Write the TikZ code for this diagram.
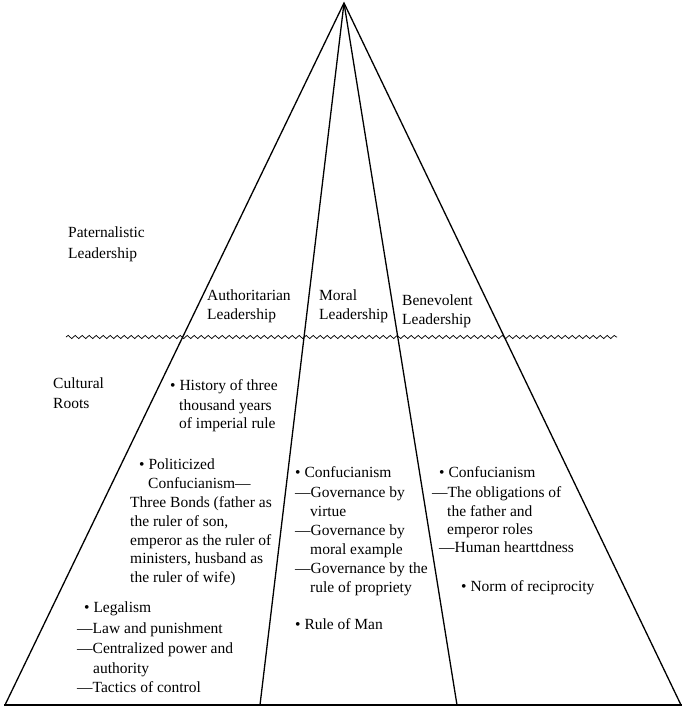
\documentclass[tikz,border=0pt]{standalone}
\usepackage{fontspec}
\setmainfont{Liberation Serif}
\usetikzlibrary{decorations.pathmorphing}
\begin{document}
\begin{tikzpicture}[x=1pt,y=-1pt,
  txt/.style={font=\fontsize{15.5}{19}\selectfont, inner sep=0pt, anchor=base west},
  edge/.style={line width=1.3pt, line join=miter},
  base/.style={line width=2.2pt},
  wave/.style={decorate, decoration={snake, amplitude=1.6pt, segment length=7pt}, line width=0.7pt}]
\useasboundingbox (0,0) rectangle (685,709);
% pyramid
\coordinate (apex) at (344,3);
\coordinate (bl) at (5,705);
\coordinate (bml) at (260,705);
\coordinate (bmr) at (457,705);
\coordinate (br) at (681,705);
\draw[edge] (bl) -- (apex) -- (br);
\draw[edge] (apex) -- (bml);
\draw[edge] (apex) -- (bmr);
\draw[base] ([xshift=-1pt]bl) -- ([xshift=1pt]br);
% wavy divider
\coordinate (w1) at (66,337);
\coordinate (w2) at (617,337);
\draw[wave] (w1) -- (w2);
% headers
\node[txt] (pl1) at (68,237) {Paternalistic};
\node[txt] (pl2) at (68,258) {Leadership};
\node[txt] (al1) at (207,300) {Authoritarian};
\node[txt] (al2) at (207,319) {Leadership};
\node[txt] (ml1) at (319,300) {Moral};
\node[txt] (ml2) at (319,319) {Leadership};
\node[txt] (bl1) at (402,305) {Benevolent};
\node[txt] (bl2) at (402,324) {Leadership};
\node[txt] (cr1) at (53,388) {Cultural};
\node[txt] (cr2) at (53,408) {Roots};
% left column
\node[txt] (h1) at (170,390) {• History of three};
\node[txt] (h2) at (179,410) {thousand years};
\node[txt] (h3) at (179,428) {of imperial rule};
\node[txt] (p1) at (139,469) {• Politicized};
\node[txt] (p2) at (148,488) {Confucianism—};
\node[txt] (p3) at (130,507) {Three Bonds (father as};
\node[txt] (p4) at (130,526) {the ruler of son,};
\node[txt] (p5) at (130,545) {emperor as the ruler of};
\node[txt] (p6) at (130,563) {ministers, husband as};
\node[txt] (p7) at (130,582) {the ruler of wife)};
\node[txt] (l1) at (84,612) {• Legalism};
\node[txt] (l2) at (77,633) {—Law and punishment};
\node[txt] (l3) at (77,653) {—Centralized power and};
\node[txt] (l4) at (93,673) {authority};
\node[txt] (l5) at (77,692) {—Tactics of control};
% middle column
\node[txt] (m1) at (295,477) {• Confucianism};
\node[txt] (m2) at (295,497) {—Governance by};
\node[txt] (m3) at (310,516) {virtue};
\node[txt] (m4) at (295,535) {—Governance by};
\node[txt] (m5) at (310,554) {moral example};
\node[txt] (m6) at (295,573) {—Governance by the};
\node[txt] (m7) at (310,592) {rule of propriety};
\node[txt] (m8) at (295,629) {• Rule of Man};
% right column
\node[txt] (r1) at (439,477) {• Confucianism};
\node[txt] (r2) at (432,497) {—The obligations of};
\node[txt] (r3) at (447,516) {the father and};
\node[txt] (r4) at (447,534) {emperor roles};
\node[txt] (r5) at (439,552) {—Human hearttdness};
\node[txt] (r6) at (461,591) {• Norm of reciprocity};
\end{tikzpicture}
\end{document}
